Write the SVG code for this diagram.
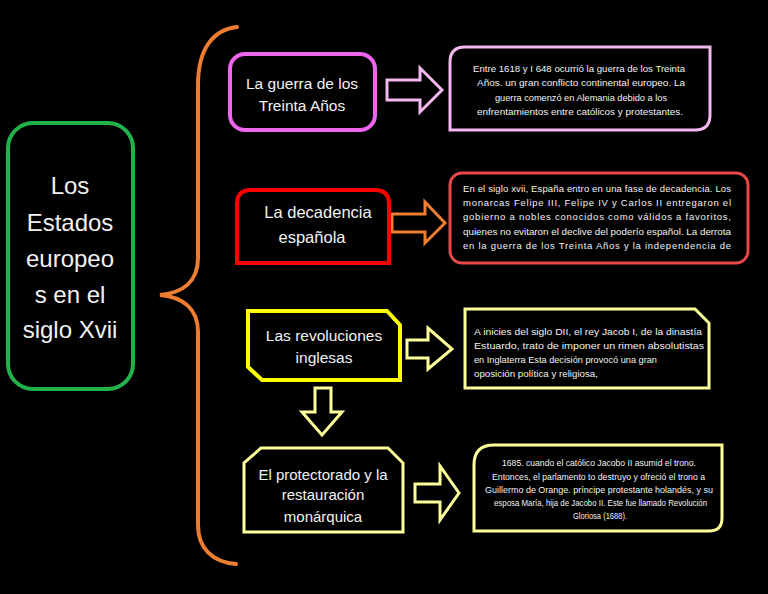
<svg xmlns="http://www.w3.org/2000/svg" width="768" height="594" viewBox="0 0 768 594">
<defs>
<style>
.lbl{font-family:"Liberation Sans",Arial,sans-serif;fill:#f2f2f2;text-anchor:middle}
.sm{font-family:"Liberation Sans",Arial,sans-serif;fill:#f2f2f2;font-size:9.5px}
.box{fill:#000}
.arrow{fill:#000;stroke-width:3;stroke-linejoin:miter}
</style>
</defs>
<rect width="768" height="594" fill="#000"/>

<g id="connectors">
  <path d="M237,27 C212,30 198,50 198,85 L198,258 C198,282 182,293 160,295 C182,297 198,308 198,332 L198,525 C198,548 212,562 236,564" fill="none" stroke="#ed7d31" stroke-width="4" stroke-linecap="round"/>
  <polygon class="arrow" stroke="#f4b8f0" points="387,80 420,80 420,68 442,90 420,112 420,100 387,100"/>
  <polygon class="arrow" stroke="#ed7d31" points="392,214 425,214 425,202 445,223 425,243 425,232 392,232"/>
  <polygon class="arrow" stroke="#ffff99" points="407,340 428,340 428,328 452,349 428,369 428,358 407,358"/>
  <polygon class="arrow" stroke="#ffff99" points="315,388 331,388 331,412 342,412 322,435 302,412 315,412"/>
  <polygon class="arrow" stroke="#ffff99" points="415,484 440,484 440,466 459,493 440,520 440,502 415,502"/>
</g>

<g id="main">
  <rect class="box" x="8" y="123" width="125" height="266" rx="25" stroke="#22b24c" stroke-width="4"/>
  <text class="lbl" font-size="24" x="70" y="194">Los</text>
  <text class="lbl" font-size="24" x="70" y="231">Estados</text>
  <text class="lbl" font-size="24" x="70" y="267">europeo</text>
  <text class="lbl" font-size="24" x="70" y="303">s en el</text>
  <text class="lbl" font-size="24" x="70" y="338">siglo Xvii</text>
</g>

<g id="guerra">
  <rect class="box" x="230" y="54" width="145" height="76" rx="15" stroke="#ee66ee" stroke-width="4"/>
  <text class="lbl" font-size="15.5" x="302" y="88.5">La guerra de los</text>
  <text class="lbl" font-size="15.5" x="302" y="110.5">Treinta Años</text>
</g>

<g id="guerra-texto">
  <path class="box" d="M465,47 L710,47 L710,115 Q710,130 695,130 L450,130 L450,62 Q450,47 465,47 Z" stroke="#f4b8f0" stroke-width="3"/>
  <text class="sm" x="473" y="71.5" textLength="212" lengthAdjust="spacingAndGlyphs">Entre 1618 y I 648 ocurrió la guerra de los Treinta</text>
  <text class="sm" x="477" y="85.5" textLength="208" lengthAdjust="spacingAndGlyphs">Años. un gran conflicto continental europeo. La</text>
  <text class="sm" x="495" y="100.5" textLength="172" lengthAdjust="spacingAndGlyphs">guerra comenzó en Alemania debido a los</text>
  <text class="sm" x="477" y="114.5" textLength="206" lengthAdjust="spacingAndGlyphs">enfrentamientos entre católicos y protestantes.</text>
</g>

<g id="decadencia">
  <path class="box" d="M237,263 L237,204 Q237,190 251,190 L375,190 Q389,190 389,204 L389,263 Z" stroke="#ff0000" stroke-width="4"/>
  <text class="lbl" font-size="16.5" x="318" y="217.5">La decadencia</text>
  <text class="lbl" font-size="16.5" x="312" y="242.5">española</text>
</g>

<g id="decadencia-texto">
  <rect class="box" x="450" y="173" width="298" height="90" rx="12" stroke="#e84848" stroke-width="3"/>
  <text class="sm" x="463" y="191.5" textLength="268" lengthAdjust="spacing">En el siglo xvii, España entro en una fase de decadencia. Los</text>
  <text class="sm" x="463" y="205.5" textLength="268" lengthAdjust="spacing">monarcas Felipe III, Felipe IV y Carlos II entregaron el</text>
  <text class="sm" x="463" y="219.5" textLength="268" lengthAdjust="spacing">gobierno a nobles conocidos como válidos a favoritos,</text>
  <text class="sm" x="463" y="234.5" textLength="268" lengthAdjust="spacingAndGlyphs">quienes no evitaron el declive del poderío español. La derrota</text>
  <text class="sm" x="463" y="248.5" textLength="268" lengthAdjust="spacing">en la guerra de los Treinta Años y la independencia de</text>
</g>

<g id="revoluciones">
  <polygon class="box" points="248,311 387,311 400,325 400,380 262,380 248,367" stroke="#ffff00" stroke-width="4"/>
  <text class="lbl" font-size="15.5" x="324" y="340.5">Las revoluciones</text>
  <text class="lbl" font-size="15.5" x="324" y="362.5">inglesas</text>
</g>

<g id="revoluciones-texto">
  <polygon class="box" points="465,309 695,309 709,323 709,388 465,388" stroke="#ffff99" stroke-width="3"/>
  <text class="sm" x="474" y="335" textLength="228" lengthAdjust="spacingAndGlyphs">A inicies del siglo DII, el rey Jacob I, de la dinastía</text>
  <text class="sm" x="474" y="349" textLength="230" lengthAdjust="spacingAndGlyphs">Estuardo, trato de imponer un rimen absolutistas</text>
  <text class="sm" x="474" y="362.5" textLength="183" lengthAdjust="spacingAndGlyphs">en Inglaterra Esta decisión provocó una gran</text>
  <text class="sm" x="474" y="376.5" textLength="124" lengthAdjust="spacingAndGlyphs">oposición política y religiosa,</text>
</g>

<g id="protectorado">
  <polygon class="box" points="261,448 388,448 403,463 403,532 244,532 244,463" stroke="#ffff99" stroke-width="3"/>
  <text class="lbl" font-size="15" x="323" y="480">El protectorado y la</text>
  <text class="lbl" font-size="15" x="323" y="500">restauración</text>
  <text class="lbl" font-size="15" x="323" y="522">monárquica</text>
</g>

<g id="protectorado-texto">
  <path class="box" d="M494,445 L722,445 L722,518 Q722,531 709,531 L474,531 L474,465 Q474,445 494,445 Z" stroke="#ffff99" stroke-width="3"/>
  <text class="sm" font-size="9" x="502" y="466" textLength="194" lengthAdjust="spacingAndGlyphs">1685. cuando el católico Jacobo II asumid el trono.</text>
  <text class="sm" font-size="9" x="492" y="479.5" textLength="213" lengthAdjust="spacingAndGlyphs">Entonces, el parlamento to destruyo y ofreció el trono a</text>
  <text class="sm" font-size="9" x="485" y="493" textLength="228" lengthAdjust="spacingAndGlyphs">Guillermo de Orange. príncipe protestante holandés, y su</text>
  <text class="sm" font-size="9" x="494" y="506" textLength="213" lengthAdjust="spacingAndGlyphs">esposa María, hija de Jacobo II. Este fue llamado Revolución</text>
  <text class="sm" font-size="9" x="573" y="519" textLength="54" lengthAdjust="spacingAndGlyphs">Gloriosa (1688).</text>
</g>
</svg>
